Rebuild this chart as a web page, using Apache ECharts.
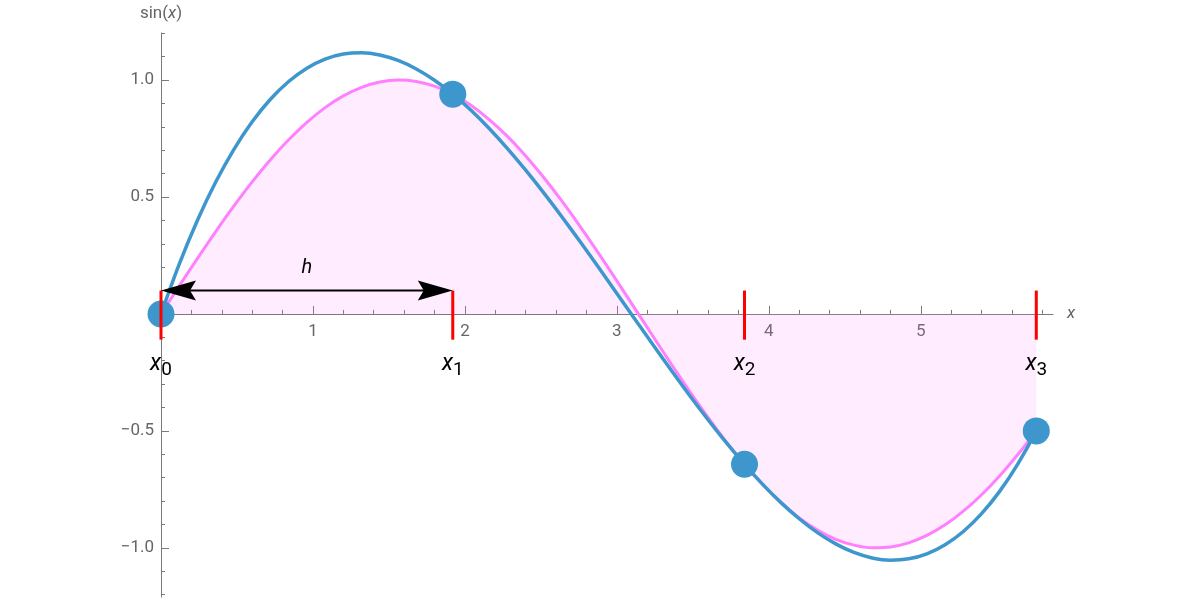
<!DOCTYPE html>
<html>
<head>
<meta charset="utf-8">
<script src="https://cdn.jsdelivr.net/npm/echarts@6/dist/echarts.min.js"></script>
<style>
html,body{margin:0;padding:0;background:#fff;}
#chart{width:1200px;height:600px;}
</style>
</head>
<body>
<div id="chart"></div>
<script>
// sample abscissae
const xs = [0,0.12,0.24,0.36,0.48,0.6,0.72,0.84,0.96,1.08,1.2,1.32,1.44,1.56,1.68,1.8,1.92,2.04,2.16,2.28,2.4,2.52,2.64,2.76,2.88,3,3.12,3.24,3.36,3.48,3.6,3.72,3.84,3.96,4.08,4.2,4.32,4.44,4.56,4.68,4.8,4.92,5.04,5.16,5.28,5.4,5.52,5.64,5.76];
// sin(x) curve (pink)
const sinY = [0,0.1197,0.2377,0.3523,0.4618,0.5646,0.6594,0.7446,0.8192,0.882,0.932,0.9687,0.9915,0.9999,0.994,0.9738,0.9396,0.8919,0.8309,0.7589,0.6755,0.5823,0.481,0.3724,0.2586,0.1411,0.0216,-0.0982,-0.2167,-0.332,-0.4425,-0.5467,-0.6428,-0.73,-0.8067,-0.8716,-0.924,-0.9632,-0.9884,-0.9995,-0.9962,-0.9785,-0.9468,-0.9015,-0.8432,-0.7728,-0.6912,-0.5998,-0.4998];
// interpolating cubic (blue)
const cubicY = [0,0.213,0.4006,0.5638,0.7037,0.8213,0.9176,0.9937,1.0506,1.0894,1.111,1.1166,1.1072,1.0837,1.0473,0.9989,0.9397,0.8706,0.7927,0.707,0.6146,0.5165,0.4137,0.3073,0.1982,0.0877,-0.0234,-0.134,-0.243,-0.3494,-0.4521,-0.5503,-0.6428,-0.7285,-0.8066,-0.8755,-0.935,-0.983,-1.0196,-1.043,-1.0525,-1.0469,-1.0254,-0.9865,-0.93,-0.8537,-0.7575,-0.6396,-0.5];
// nodes
const nodeX = [0,1.92,3.84,5.76];
const nodeY = [0,0.9397,-0.6428,-0.5];
const nodeLabels = ['0','1','2','3'];
// ticks
const xTickValues = [1,2,3,4,5];
const yTickValues = [-1,-0.5,0.5,1];
// arrow labelled h between x0 and x1
const arrowLabel = 'h';

const FONT = 'Roboto';
const AXIS_COLOR = '#7a7a7a';
const LABEL_COLOR = '#666666';
const BLUE = '#3D97CD';
const PINK = '#FF80FF';

const ARROW_Y = 0.1;
const TICK_TOP = 0.1;
const TICK_BOTTOM = -0.11;

const X_MIN = 0, X_MAX = 5.87;
const Y_MIN = -1.21, Y_MAX = 1.201;
const GRID = {left: 161, right: 147, top: 33, bottom: 3};
const gridH = 600 - GRID.top - GRID.bottom;
const zeroOffset = -((0 - Y_MIN) / (Y_MAX - Y_MIN)) * gridH;

const chart = echarts.init(document.getElementById('chart'), null, {renderer:'canvas'});

const option = {
  animation: false,
  backgroundColor: '#ffffff',
  grid: Object.assign({containLabel: false, outerBoundsMode: 'none'}, GRID),
  xAxis: {
    type: 'value', min: X_MIN, max: X_MAX, interval: 1,
    position: 'bottom', offset: zeroOffset,
    name: 'x', nameLocation: 'end', nameGap: 14,
    nameTextStyle: {fontFamily: FONT, fontStyle: 'italic', fontSize: 17, color: LABEL_COLOR},
    axisLine: {show: true, onZero: false, lineStyle: {color: AXIS_COLOR, width: 1}},
    axisTick: {show: true, inside: true, length: 8, customValues: xTickValues, lineStyle: {color: AXIS_COLOR}},
    minorTick: {show: true, splitNumber: 5, length: 4, lineStyle: {color: AXIS_COLOR}},
    axisLabel: {show: true, customValues: xTickValues, margin: 9, fontFamily: FONT, fontSize: 17, color: LABEL_COLOR},
    splitLine: {show: false}, minorSplitLine: {show: false}
  },
  yAxis: {
    type: 'value', min: Y_MIN, max: Y_MAX,
    name: '{n|sin(}{i|x}{n|)}', nameLocation: 'end', nameGap: 11,
    nameTextStyle: {
      rich: {
        n: {fontFamily: FONT, fontSize: 17, color: LABEL_COLOR},
        i: {fontFamily: FONT, fontSize: 17, fontStyle: 'italic', color: LABEL_COLOR}
      }
    },
    axisLine: {show: true, onZero: false, lineStyle: {color: AXIS_COLOR, width: 1}},
    axisTick: {show: true, inside: true, length: 8, customValues: yTickValues, lineStyle: {color: AXIS_COLOR}},
    minorTick: {show: true, splitNumber: 5, length: 4, lineStyle: {color: AXIS_COLOR}},
    axisLabel: {
      show: true, customValues: yTickValues, margin: 7, fontFamily: FONT, fontSize: 17, color: LABEL_COLOR,
      formatter: v => (v < 0 ? '\u2212' : '') + Math.abs(v).toFixed(1)
    },
    splitLine: {show: false}, minorSplitLine: {show: false}
  },
  series: [
    {
      name: 'sin', type: 'line', z: 2, smooth: 0.3, showSymbol: false, clip: false,
      data: xs.map((x, i) => [x, sinY[i]]),
      lineStyle: {color: PINK, width: 3},
      areaStyle: {color: 'rgba(255,128,255,0.2)', origin: 0}
    },
    {
      name: 'cubic', type: 'line', z: 3, smooth: 0.3, showSymbol: false, clip: false,
      data: xs.map((x, i) => [x, cubicY[i]]),
      lineStyle: {color: BLUE, width: 3.5}
    },
    {
      name: 'nodes', type: 'scatter', z: 4, symbolSize: 27,
      data: nodeX.map((x, i) => [x, nodeY[i]]),
      itemStyle: {color: BLUE, opacity: 1}
    },
    {
      name: 'ticks', type: 'custom', z: 5, clip: false,
      data: nodeX.map((x, i) => [x, 0, i]),
      renderItem: function (params, api) {
        const x = api.value(0);
        const i = api.value(2);
        const top = api.coord([x, TICK_TOP]);
        const bot = api.coord([x, TICK_BOTTOM]);
        return {
          type: 'group',
          children: [
            {type: 'line', shape: {x1: top[0], y1: top[1], x2: bot[0], y2: bot[1]},
             style: {stroke: '#FF0000', lineWidth: 3}},
            {type: 'text', x: bot[0], y: bot[1] + 13,
             style: {
               text: '{x|x}{s|' + nodeLabels[i] + '}',
               align: 'center', verticalAlign: 'top',
               rich: {
                 x: {fontFamily: FONT, fontSize: 23, fontStyle: 'italic', fill: '#000', lineHeight: 24, verticalAlign: 'top'},
                 s: {fontFamily: FONT, fontSize: 19, fill: '#000', lineHeight: 19, padding: [8, 0, 0, 0], verticalAlign: 'top'}
               }
             }}
          ]
        };
      }
    },
    {
      name: 'arrow', type: 'custom', z: 6, clip: false,
      data: [[nodeX[0], nodeX[1]]],
      renderItem: function (params, api) {
        const a = api.coord([api.value(0), ARROW_Y]);
        const b = api.coord([api.value(1), ARROW_Y]);
        const y = a[1];
        const L = 35, W = 10, N = 29;
        return {
          type: 'group',
          children: [
            {type: 'line', shape: {x1: a[0] + 20, y1: y, x2: b[0] - 20, y2: y},
             style: {stroke: '#000', lineWidth: 2}},
            {type: 'polygon', shape: {points: [[a[0], y], [a[0] + L, y - W], [a[0] + N, y], [a[0] + L, y + W]]},
             style: {fill: '#000'}},
            {type: 'polygon', shape: {points: [[b[0], y], [b[0] - L, y - W], [b[0] - N, y], [b[0] - L, y + W]]},
             style: {fill: '#000'}},
            {type: 'text', x: (a[0] + b[0]) / 2, y: y - 23,
             style: {text: arrowLabel, fontFamily: FONT, fontSize: 20, fontStyle: 'italic', fill: '#000',
                     align: 'center', verticalAlign: 'middle'}}
          ]
        };
      }
    }
  ]
};
chart.setOption(option);
</script>
</body>
</html>
